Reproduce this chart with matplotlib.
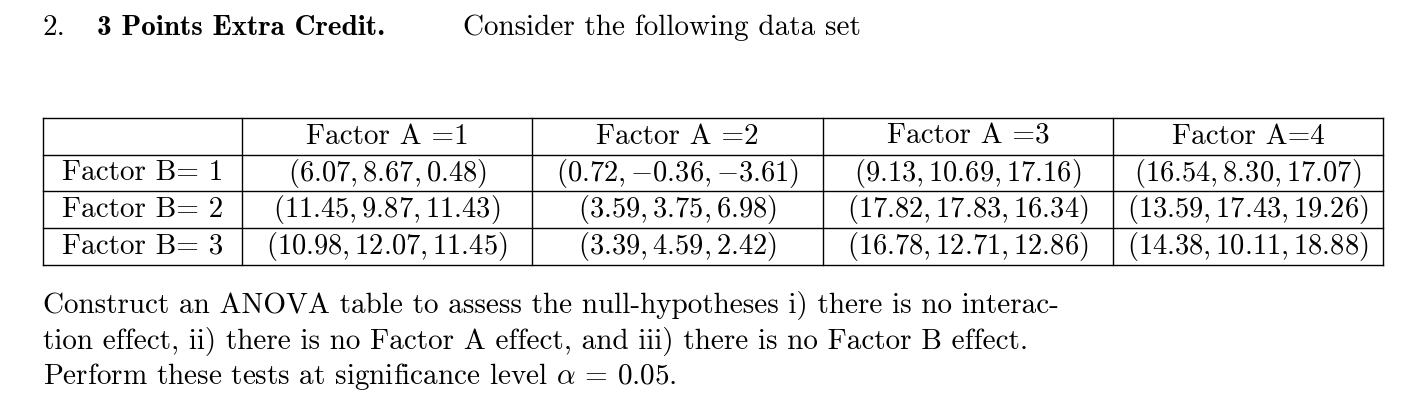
import matplotlib
matplotlib.use("Agg")
import matplotlib.pyplot as plt
from matplotlib.lines import Line2D

plt.rcParams['mathtext.fontset'] = 'cm'

col_labels = ["Factor A =1", "Factor A =2", "Factor A =3", "Factor A=4"]
row_labels = ["Factor B= 1", "Factor B= 2", "Factor B= 3"]
cells = [
    [[6.07, 8.67, 0.48], [0.72, -0.36, -3.61], [9.13, 10.69, 17.16], [16.54, 8.30, 17.07]],
    [[11.45, 9.87, 11.43], [3.59, 3.75, 6.98], [17.82, 17.83, 16.34], [13.59, 17.43, 19.26]],
    [[10.98, 12.07, 11.45], [3.39, 4.59, 2.42], [16.78, 12.71, 12.86], [14.38, 10.11, 18.88]],
]

W, H = 1413, 417
fig = plt.figure(figsize=(W/100, H/100), dpi=100)
fig.patch.set_facecolor('white')

def px(x, y):
    return x / W, 1 - y / H

fs = 21
rm = dict(family='cmr10', fontsize=fs, color='black')

# heading
fig.text(*px(43, 28), "2.", va='center', ha='left', **rm)
fig.text(*px(97, 28), "3 Points Extra Credit.", va='center', ha='left',
         family='cmb10', fontsize=fs, color='black')
fig.text(*px(463, 28), "Consider the following data set", va='center', ha='left', **rm)

# table grid
xs = [43, 242, 532, 823, 1113, 1383]
ys = [118, 155, 191, 228, 265]
for y in ys:
    fig.add_artist(Line2D([px(xs[0], 0)[0], px(xs[-1], 0)[0]], [px(0, y)[1]]*2, color='black', lw=1))
for x in xs:
    fig.add_artist(Line2D([px(x, 0)[0]]*2, [px(0, ys[0])[1], px(0, ys[-1])[1]], color='black', lw=1))

def fmt(v):
    s = f"{v:.2f}"
    return "{" + s + "}" if v < 0 else s

for j, lab in enumerate(col_labels):
    cx = (xs[j+1] + xs[j+2]) / 2
    fig.text(*px(cx, (ys[0]+ys[1])/2), lab, ha='center', va='center', **rm)
for i, lab in enumerate(row_labels):
    cy = (ys[i+1] + ys[i+2]) / 2
    fig.text(*px(62, cy), lab, ha='left', va='center', **rm)
    for j, vals in enumerate(cells[i]):
        cx = (xs[j+1] + xs[j+2]) / 2
        s = "$(" + ",".join(fmt(v) for v in vals) + ")$"
        fig.text(*px(cx, cy), s, ha='center', va='center', fontsize=20.5, color='black')

# paragraph
lines = [
    "Construct an ANOVA table to assess the null-hypotheses i) there is no interac-",
    "tion effect, ii) there is no Factor A effect, and iii) there is no Factor B effect.",
    "Perform these tests at significance level $\\alpha$ = 0.05.",
]
for k, t in enumerate(lines):
    fig.text(*px(43, 305 + 36*k), t, ha='left', va='center', **rm)

fig.savefig("out.png", dpi=100)
